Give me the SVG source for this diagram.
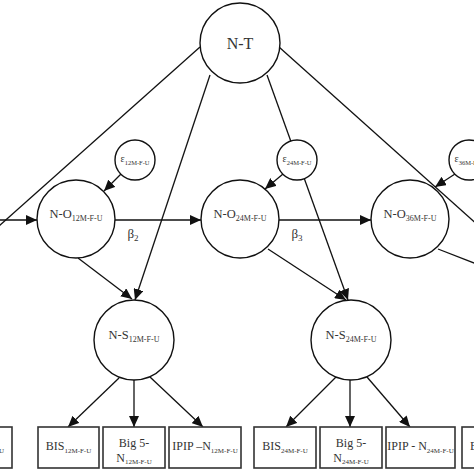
<svg xmlns="http://www.w3.org/2000/svg" width="474" height="474" viewBox="0 0 474 474">
<style>
.n{fill:#fff;stroke:#111;stroke-width:1.4}
.b{fill:#fff;stroke:#333;stroke-width:1.6}
.e{stroke:#111;stroke-width:1.3;fill:none}
.a{stroke:#111;stroke-width:1.3;fill:none;marker-end:url(#ah)}
text{font-family:"Liberation Serif","Times New Roman",serif;fill:#333;text-anchor:middle}
.t{font-size:12.5px}
.s{font-size:8px}
.bx{font-size:12px}
.bs{font-size:7px}
</style>
<defs>
<marker id="ah" markerUnits="userSpaceOnUse" markerWidth="12" markerHeight="10" refX="11" refY="5" orient="auto">
<path d="M0,0 L11,5 L0,10 Z" fill="#111"/>
</marker>
</defs>
<rect width="474" height="474" fill="#fff"/>
<g id="connectors">
<line class="e" x1="200" y1="47" x2="-20" y2="243"/>
<line class="e" x1="279" y1="47" x2="500" y2="245"/>
<line class="e" x1="438" y1="249" x2="500" y2="273"/>
<line class="a" x1="210" y1="75" x2="135" y2="300"/>
<line class="a" x1="267" y1="75" x2="348" y2="300"/>
<line class="a" x1="-10" y1="220" x2="37" y2="220"/>
<line class="a" x1="115" y1="220" x2="201" y2="220"/>
<line class="a" x1="279" y1="220" x2="371" y2="220"/>
<line class="a" x1="121" y1="174" x2="104" y2="191"/>
<line class="a" x1="283" y1="174" x2="265" y2="189"/>
<line class="a" x1="455" y1="174" x2="435" y2="187"/>
<line class="a" x1="78" y1="258" x2="132" y2="299"/>
<line class="a" x1="268" y1="249" x2="346" y2="300"/>
<line class="a" x1="119" y1="378" x2="68" y2="427"/>
<line class="a" x1="134" y1="380" x2="134" y2="427"/>
<line class="a" x1="150" y1="377" x2="203" y2="427"/>
<line class="a" x1="336" y1="377" x2="286" y2="427"/>
<line class="a" x1="350" y1="380" x2="350" y2="427"/>
<line class="a" x1="367" y1="377" x2="410" y2="427"/>
</g>
<g id="NT"><circle class="n" cx="240" cy="43" r="40"/><text x="240" y="49" style="font-size:16px">N-T</text></g>
<g id="e12"><circle class="n" cx="135" cy="160" r="20"/><text x="135" y="162" style="font-size:10px">ε<tspan style="font-size:6.5px" dy="3">12M-F-U</tspan></text></g>
<g id="e24"><circle class="n" cx="297" cy="160" r="20"/><text x="297" y="162" style="font-size:10px">ε<tspan style="font-size:6.5px" dy="3">24M-F-U</tspan></text></g>
<g id="e36"><circle class="n" cx="469" cy="160" r="20"/><text x="469" y="162" style="font-size:10px">ε<tspan style="font-size:6.5px" dy="3">36M-F-U</tspan></text></g>
<g id="NO12"><circle class="n" cx="76" cy="219" r="39"/><text class="t" x="76" y="218">N-O<tspan class="s" dy="3">12M-F-U</tspan></text></g>
<g id="NO24"><circle class="n" cx="240" cy="219" r="39"/><text class="t" x="240" y="218">N-O<tspan class="s" dy="3">24M-F-U</tspan></text></g>
<g id="NO36"><circle class="n" cx="410" cy="219" r="39"/><text class="t" x="410" y="218">N-O<tspan class="s" dy="3">36M-F-U</tspan></text></g>
<g id="beta2"><text x="133" y="238" style="font-size:13px">β<tspan style="font-size:9px" dy="3">2</tspan></text></g>
<g id="beta3"><text x="297" y="238" style="font-size:13px">β<tspan style="font-size:9px" dy="3">3</tspan></text></g>
<g id="NS12"><circle class="n" cx="134" cy="340" r="40"/><text class="t" x="134" y="339">N-S<tspan class="s" dy="3">12M-F-U</tspan></text></g>
<g id="NS24"><circle class="n" cx="351" cy="340" r="40"/><text class="t" x="351" y="339">N-S<tspan class="s" dy="3">24M-F-U</tspan></text></g>
<g id="boxL"><rect class="b" x="-50" y="427" width="62" height="41"/><text class="bs" x="4" y="453" style="text-anchor:end">U</text></g>
<g id="BIS12"><rect class="b" x="38" y="427" width="61" height="41"/><text class="bx" x="68.5" y="450">BIS<tspan class="bs" dy="3">12M-F-U</tspan></text></g>
<g id="Big5N12"><rect class="b" x="103" y="427" width="62" height="41"/><text class="bx" x="134" y="447">Big 5-</text><text class="bx" x="134" y="462">N<tspan class="bs" dy="2">12M-F-U</tspan></text></g>
<g id="IPIP12"><rect class="b" x="169" y="427" width="72" height="41"/><text class="bx" x="205" y="450">IPIP –N<tspan class="bs" dy="3">12M-F-U</tspan></text></g>
<g id="BIS24"><rect class="b" x="254" y="427" width="62" height="41"/><text class="bx" x="285" y="450">BIS<tspan class="bs" dy="3">24M-F-U</tspan></text></g>
<g id="Big5N24"><rect class="b" x="320" y="427" width="62" height="41"/><text class="bx" x="351" y="447">Big 5-</text><text class="bx" x="351" y="462">N<tspan class="bs" dy="2">24M-F-U</tspan></text></g>
<g id="IPIP24"><rect class="b" x="386" y="427" width="69" height="41"/><text class="bx" x="420.5" y="450">IPIP - N<tspan class="bs" dy="3">24M-F-U</tspan></text></g>
<g id="boxR"><rect class="b" x="462" y="427" width="70" height="41"/><text class="bx" x="470" y="450" style="text-anchor:start">BIS<tspan class="bs" dy="3">36M-F-U</tspan></text></g>
</svg>
